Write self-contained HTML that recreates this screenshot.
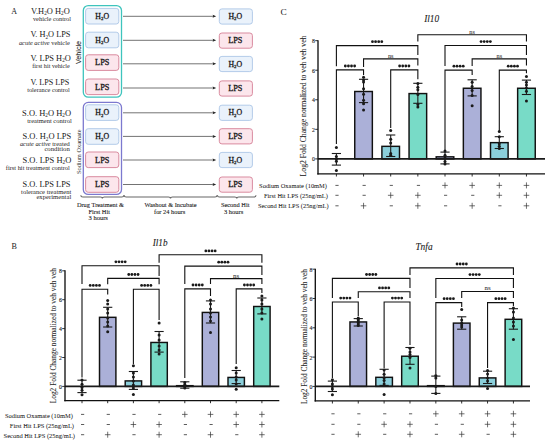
<!DOCTYPE html>
<html><head><meta charset="utf-8"><style>
html,body{margin:0;padding:0;background:#fff;}
body{width:550px;height:445px;overflow:hidden;}
svg{display:block;}
</style></head><body>
<svg width="550" height="445" viewBox="0 0 550 445">
<rect width="550" height="445" fill="#fff"/>
<text x="11.3" y="13.8" font-family="Liberation Serif" font-size="8.6" text-anchor="start" font-weight="normal" font-style="normal" fill="#1a1a1a" textLength="5.8" lengthAdjust="spacingAndGlyphs" >A</text>
<text x="31" y="14.0" font-family="Liberation Serif" font-size="8.4" text-anchor="start" font-weight="normal" font-style="normal" fill="#1a1a1a" stroke="#1a1a1a" stroke-width="0.02" textLength="38.8" lengthAdjust="spacingAndGlyphs" >V.H<tspan font-size="62%" dy="1.3">2</tspan><tspan dy="-1.3">O</tspan> H<tspan font-size="62%" dy="1.3">2</tspan><tspan dy="-1.3">O</tspan></text>
<text x="32.9" y="20.8" font-family="Liberation Serif" font-size="6.8" text-anchor="start" font-weight="normal" font-style="normal" fill="#1e1e1e" textLength="38.2" lengthAdjust="spacingAndGlyphs" >vehicle control</text>
<text x="30.4" y="37.3" font-family="Liberation Serif" font-size="8.4" text-anchor="start" font-weight="normal" font-style="normal" fill="#1a1a1a" stroke="#1a1a1a" stroke-width="0.02" textLength="40.1" lengthAdjust="spacingAndGlyphs" >V. H<tspan font-size="62%" dy="1.3">2</tspan><tspan dy="-1.3">O</tspan> LPS</text>
<text x="18.9" y="44.6" font-family="Liberation Serif" font-size="6.8" text-anchor="start" font-weight="normal" font-style="normal" fill="#1e1e1e" textLength="50.9" lengthAdjust="spacingAndGlyphs" ><tspan font-style="italic">acute active</tspan> vehicle</text>
<text x="30.4" y="60.7" font-family="Liberation Serif" font-size="8.4" text-anchor="start" font-weight="normal" font-style="normal" fill="#1a1a1a" stroke="#1a1a1a" stroke-width="0.02" textLength="40.4" lengthAdjust="spacingAndGlyphs" >V. LPS H<tspan font-size="62%" dy="1.3">2</tspan><tspan dy="-1.3">O</tspan></text>
<text x="32.3" y="68.1" font-family="Liberation Serif" font-size="6.8" text-anchor="start" font-weight="normal" font-style="normal" fill="#1e1e1e" textLength="37.5" lengthAdjust="spacingAndGlyphs" >first hit vehicle</text>
<text x="30.4" y="84.6" font-family="Liberation Serif" font-size="8.4" text-anchor="start" font-weight="normal" font-style="normal" fill="#1a1a1a" stroke="#1a1a1a" stroke-width="0.02" textLength="38.8" lengthAdjust="spacingAndGlyphs" >V. LPS LPS</text>
<text x="27.2" y="92.0" font-family="Liberation Serif" font-size="6.8" text-anchor="start" font-weight="normal" font-style="normal" fill="#1e1e1e" textLength="42.6" lengthAdjust="spacingAndGlyphs" >tolerance control</text>
<text x="22.1" y="116.0" font-family="Liberation Serif" font-size="8.4" text-anchor="start" font-weight="normal" font-style="normal" fill="#1a1a1a" stroke="#1a1a1a" stroke-width="0.02" textLength="49.0" lengthAdjust="spacingAndGlyphs" >S.O. H<tspan font-size="62%" dy="1.3">2</tspan><tspan dy="-1.3">O</tspan> H<tspan font-size="62%" dy="1.3">2</tspan><tspan dy="-1.3">O</tspan></text>
<text x="27.2" y="123.2" font-family="Liberation Serif" font-size="6.8" text-anchor="start" font-weight="normal" font-style="normal" fill="#1e1e1e" textLength="44.5" lengthAdjust="spacingAndGlyphs" >treatment control</text>
<text x="22.5" y="139.2" font-family="Liberation Serif" font-size="8.4" text-anchor="start" font-weight="normal" font-style="normal" fill="#1a1a1a" stroke="#1a1a1a" stroke-width="0.02" textLength="48.8" lengthAdjust="spacingAndGlyphs" >S.O. H<tspan font-size="62%" dy="1.3">2</tspan><tspan dy="-1.3">O</tspan> LPS</text>
<text x="19.9" y="146.1" font-family="Liberation Serif" font-size="6.8" text-anchor="start" font-weight="normal" font-style="normal" fill="#1e1e1e" textLength="49.9" lengthAdjust="spacingAndGlyphs" ><tspan font-style="italic">acute active</tspan> treated</text>
<text x="44.4" y="151.1" font-family="Liberation Serif" font-size="6.8" text-anchor="start" font-weight="normal" font-style="normal" fill="#1e1e1e" textLength="25.4" lengthAdjust="spacingAndGlyphs" >condition</text>
<text x="22.5" y="162.5" font-family="Liberation Serif" font-size="8.4" text-anchor="start" font-weight="normal" font-style="normal" fill="#1a1a1a" stroke="#1a1a1a" stroke-width="0.02" textLength="48.8" lengthAdjust="spacingAndGlyphs" >S.O. LPS H<tspan font-size="62%" dy="1.3">2</tspan><tspan dy="-1.3">O</tspan></text>
<text x="5.8" y="169.9" font-family="Liberation Serif" font-size="6.8" text-anchor="start" font-weight="normal" font-style="normal" fill="#1e1e1e" textLength="64.0" lengthAdjust="spacingAndGlyphs" >first hit treatment control</text>
<text x="22.5" y="186.8" font-family="Liberation Serif" font-size="8.4" text-anchor="start" font-weight="normal" font-style="normal" fill="#1a1a1a" stroke="#1a1a1a" stroke-width="0.02" textLength="48.0" lengthAdjust="spacingAndGlyphs" >S.O. LPS LPS</text>
<text x="21.1" y="194.2" font-family="Liberation Serif" font-size="6.8" text-anchor="start" font-weight="normal" font-style="normal" fill="#1e1e1e" textLength="50.2" lengthAdjust="spacingAndGlyphs" >tolerance treatment</text>
<text x="36.4" y="198.9" font-family="Liberation Serif" font-size="6.8" text-anchor="start" font-weight="normal" font-style="normal" fill="#1e1e1e" textLength="34.9" lengthAdjust="spacingAndGlyphs" >experimental</text>
<rect x="83.3" y="5.6" width="38.2" height="91.6" rx="5" ry="5" fill="none" stroke="#3ec4bd" stroke-width="1.3"/>
<rect x="83.3" y="102.4" width="38.2" height="92" rx="5" ry="5" fill="none" stroke="#7c79cf" stroke-width="1.3"/>
<text transform="translate(81.2,52.5) rotate(-90)" font-family="Liberation Sans" font-size="8.0" text-anchor="middle" fill="#2a2a2a" stroke="#2a2a2a" stroke-width="0.12" textLength="23.0" lengthAdjust="spacingAndGlyphs">Vehicle</text>
<text transform="translate(80.8,151.8) rotate(-90)" font-family="Liberation Serif" font-size="6.9" text-anchor="middle" fill="#333" textLength="44.6" lengthAdjust="spacingAndGlyphs">Sodium Oxamate</text>
<rect x="85.6" y="8.4" width="33.2" height="15.6" rx="2.6" ry="2.6" fill="#eaf2fb" stroke="#b3cbe9" stroke-width="1"/>
<text x="102.19999999999999" y="19.0" font-family="Liberation Serif" font-size="7.8" text-anchor="middle" font-weight="normal" font-style="normal" fill="#1a1a1a" stroke="#1a1a1a" stroke-width="0.3" >H<tspan font-size="62%" dy="1.3">2</tspan><tspan dy="-1.3">O</tspan></text>
<rect x="219.3" y="8.9" width="33.1" height="15.2" rx="2.6" ry="2.6" fill="#eaf2fb" stroke="#b3cbe9" stroke-width="1"/>
<text x="235.25000000000003" y="19.0" font-family="Liberation Serif" font-size="7.8" text-anchor="middle" font-weight="normal" font-style="normal" fill="#1a1a1a" stroke="#1a1a1a" stroke-width="0.3" >H<tspan font-size="62%" dy="1.3">2</tspan><tspan dy="-1.3">O</tspan></text>
<line x1="123.0" y1="16.3" x2="213.5" y2="16.3" stroke="#5a5a5a" stroke-width="0.85"/>
<path d="M216.2 16.3 L212.6 14.8 L213.2 16.3 L212.6 17.8 Z" fill="#222"/>
<rect x="85.6" y="32.2" width="33.2" height="15.6" rx="2.6" ry="2.6" fill="#eaf2fb" stroke="#b3cbe9" stroke-width="1"/>
<text x="102.19999999999999" y="42.8" font-family="Liberation Serif" font-size="7.8" text-anchor="middle" font-weight="normal" font-style="normal" fill="#1a1a1a" stroke="#1a1a1a" stroke-width="0.3" >H<tspan font-size="62%" dy="1.3">2</tspan><tspan dy="-1.3">O</tspan></text>
<rect x="219.3" y="33.0" width="33.1" height="15.2" rx="2.6" ry="2.6" fill="#fce6ec" stroke="#d98b9f" stroke-width="1"/>
<text x="235.25000000000003" y="43.1" font-family="Liberation Serif" font-size="7.8" text-anchor="middle" font-weight="normal" font-style="normal" fill="#1a1a1a" stroke="#1a1a1a" stroke-width="0.3" textLength="14.2" lengthAdjust="spacingAndGlyphs" >LPS</text>
<line x1="123.0" y1="40.3" x2="213.5" y2="40.3" stroke="#5a5a5a" stroke-width="0.85"/>
<path d="M216.2 40.3 L212.6 38.8 L213.2 40.3 L212.6 41.8 Z" fill="#222"/>
<rect x="85.6" y="54.8" width="33.2" height="15.6" rx="2.6" ry="2.6" fill="#fce6ec" stroke="#d98b9f" stroke-width="1"/>
<text x="102.19999999999999" y="65.4" font-family="Liberation Serif" font-size="7.8" text-anchor="middle" font-weight="normal" font-style="normal" fill="#1a1a1a" stroke="#1a1a1a" stroke-width="0.3" textLength="14.2" lengthAdjust="spacingAndGlyphs" >LPS</text>
<rect x="219.3" y="56.4" width="33.1" height="15.2" rx="2.6" ry="2.6" fill="#eaf2fb" stroke="#b3cbe9" stroke-width="1"/>
<text x="235.25000000000003" y="66.5" font-family="Liberation Serif" font-size="7.8" text-anchor="middle" font-weight="normal" font-style="normal" fill="#1a1a1a" stroke="#1a1a1a" stroke-width="0.3" >H<tspan font-size="62%" dy="1.3">2</tspan><tspan dy="-1.3">O</tspan></text>
<line x1="123.0" y1="63.8" x2="213.5" y2="63.8" stroke="#5a5a5a" stroke-width="0.85"/>
<path d="M216.2 63.8 L212.6 62.3 L213.2 63.8 L212.6 65.3 Z" fill="#222"/>
<rect x="85.6" y="79.0" width="33.2" height="15.6" rx="2.6" ry="2.6" fill="#fce6ec" stroke="#d98b9f" stroke-width="1"/>
<text x="102.19999999999999" y="89.6" font-family="Liberation Serif" font-size="7.8" text-anchor="middle" font-weight="normal" font-style="normal" fill="#1a1a1a" stroke="#1a1a1a" stroke-width="0.3" textLength="14.2" lengthAdjust="spacingAndGlyphs" >LPS</text>
<rect x="219.3" y="80.9" width="33.1" height="15.2" rx="2.6" ry="2.6" fill="#fce6ec" stroke="#d98b9f" stroke-width="1"/>
<text x="235.25000000000003" y="91.0" font-family="Liberation Serif" font-size="7.8" text-anchor="middle" font-weight="normal" font-style="normal" fill="#1a1a1a" stroke="#1a1a1a" stroke-width="0.3" textLength="14.2" lengthAdjust="spacingAndGlyphs" >LPS</text>
<line x1="123.0" y1="88.0" x2="213.5" y2="88.0" stroke="#5a5a5a" stroke-width="0.85"/>
<path d="M216.2 88.0 L212.6 86.5 L213.2 88.0 L212.6 89.5 Z" fill="#222"/>
<rect x="85.6" y="104.8" width="33.2" height="15.6" rx="2.6" ry="2.6" fill="#eaf2fb" stroke="#b3cbe9" stroke-width="1"/>
<text x="102.19999999999999" y="115.39999999999999" font-family="Liberation Serif" font-size="7.8" text-anchor="middle" font-weight="normal" font-style="normal" fill="#1a1a1a" stroke="#1a1a1a" stroke-width="0.3" >H<tspan font-size="62%" dy="1.3">2</tspan><tspan dy="-1.3">O</tspan></text>
<rect x="219.3" y="105.2" width="33.1" height="15.2" rx="2.6" ry="2.6" fill="#eaf2fb" stroke="#b3cbe9" stroke-width="1"/>
<text x="235.25000000000003" y="115.30000000000001" font-family="Liberation Serif" font-size="7.8" text-anchor="middle" font-weight="normal" font-style="normal" fill="#1a1a1a" stroke="#1a1a1a" stroke-width="0.3" >H<tspan font-size="62%" dy="1.3">2</tspan><tspan dy="-1.3">O</tspan></text>
<line x1="123.0" y1="112.8" x2="213.5" y2="112.8" stroke="#5a5a5a" stroke-width="0.85"/>
<path d="M216.2 112.8 L212.6 111.3 L213.2 112.8 L212.6 114.3 Z" fill="#222"/>
<rect x="85.6" y="128.7" width="33.2" height="15.6" rx="2.6" ry="2.6" fill="#eaf2fb" stroke="#b3cbe9" stroke-width="1"/>
<text x="102.19999999999999" y="139.3" font-family="Liberation Serif" font-size="7.8" text-anchor="middle" font-weight="normal" font-style="normal" fill="#1a1a1a" stroke="#1a1a1a" stroke-width="0.3" >H<tspan font-size="62%" dy="1.3">2</tspan><tspan dy="-1.3">O</tspan></text>
<rect x="219.3" y="128.7" width="33.1" height="15.2" rx="2.6" ry="2.6" fill="#fce6ec" stroke="#d98b9f" stroke-width="1"/>
<text x="235.25000000000003" y="138.8" font-family="Liberation Serif" font-size="7.8" text-anchor="middle" font-weight="normal" font-style="normal" fill="#1a1a1a" stroke="#1a1a1a" stroke-width="0.3" textLength="14.2" lengthAdjust="spacingAndGlyphs" >LPS</text>
<line x1="123.0" y1="136.4" x2="213.5" y2="136.4" stroke="#5a5a5a" stroke-width="0.85"/>
<path d="M216.2 136.4 L212.6 134.9 L213.2 136.4 L212.6 137.9 Z" fill="#222"/>
<rect x="85.6" y="152.0" width="33.2" height="15.6" rx="2.6" ry="2.6" fill="#fce6ec" stroke="#d98b9f" stroke-width="1"/>
<text x="102.19999999999999" y="162.60000000000002" font-family="Liberation Serif" font-size="7.8" text-anchor="middle" font-weight="normal" font-style="normal" fill="#1a1a1a" stroke="#1a1a1a" stroke-width="0.3" textLength="14.2" lengthAdjust="spacingAndGlyphs" >LPS</text>
<rect x="219.3" y="152.4" width="33.1" height="15.2" rx="2.6" ry="2.6" fill="#eaf2fb" stroke="#b3cbe9" stroke-width="1"/>
<text x="235.25000000000003" y="162.5" font-family="Liberation Serif" font-size="7.8" text-anchor="middle" font-weight="normal" font-style="normal" fill="#1a1a1a" stroke="#1a1a1a" stroke-width="0.3" >H<tspan font-size="62%" dy="1.3">2</tspan><tspan dy="-1.3">O</tspan></text>
<line x1="123.0" y1="160.0" x2="213.5" y2="160.0" stroke="#5a5a5a" stroke-width="0.85"/>
<path d="M216.2 160.0 L212.6 158.5 L213.2 160.0 L212.6 161.5 Z" fill="#222"/>
<rect x="85.6" y="176.7" width="33.2" height="15.6" rx="2.6" ry="2.6" fill="#fce6ec" stroke="#d98b9f" stroke-width="1"/>
<text x="102.19999999999999" y="187.3" font-family="Liberation Serif" font-size="7.8" text-anchor="middle" font-weight="normal" font-style="normal" fill="#1a1a1a" stroke="#1a1a1a" stroke-width="0.3" textLength="14.2" lengthAdjust="spacingAndGlyphs" >LPS</text>
<rect x="219.3" y="177.0" width="33.1" height="15.2" rx="2.6" ry="2.6" fill="#fce6ec" stroke="#d98b9f" stroke-width="1"/>
<text x="235.25000000000003" y="187.1" font-family="Liberation Serif" font-size="7.8" text-anchor="middle" font-weight="normal" font-style="normal" fill="#1a1a1a" stroke="#1a1a1a" stroke-width="0.3" textLength="14.2" lengthAdjust="spacingAndGlyphs" >LPS</text>
<line x1="123.0" y1="184.5" x2="213.5" y2="184.5" stroke="#5a5a5a" stroke-width="0.85"/>
<path d="M216.2 184.5 L212.6 183.0 L213.2 184.5 L212.6 186.0 Z" fill="#222"/>
<path d="M80.8 195.2 Q80.8 197.0 82.8 197.0 L100.4 197.0 Q102.4 197.0 102.4 198.4 Q102.4 197.0 104.4 197.0 L121.8 197.0 Q123.8 197.0 123.8 195.2" fill="none" stroke="#666" stroke-width="1.1"/>
<path d="M124.2 195.2 Q124.2 197.0 126.2 197.0 L168.5 197.0 Q170.5 197.0 170.5 198.4 Q170.5 197.0 172.5 197.0 L215.0 197.0 Q217.0 197.0 217.0 195.2" fill="none" stroke="#666" stroke-width="1.1"/>
<path d="M217.4 195.2 Q217.4 197.0 219.4 197.0 L234.8 197.0 Q236.8 197.0 236.8 198.4 Q236.8 197.0 238.8 197.0 L254.0 197.0 Q256.0 197.0 256.0 195.2" fill="none" stroke="#666" stroke-width="1.1"/>
<text x="76.9" y="207.2" font-family="Liberation Serif" font-size="6.9" text-anchor="start" font-weight="normal" font-style="normal" fill="#222" stroke="#222" stroke-width="0.1" textLength="47.1" lengthAdjust="spacingAndGlyphs" >Drug Treatment &amp;</text>
<text x="99.2" y="213.9" font-family="Liberation Serif" font-size="6.9" text-anchor="middle" font-weight="normal" font-style="normal" fill="#222" stroke="#222" stroke-width="0.1" textLength="21.6" lengthAdjust="spacingAndGlyphs" >First Hit</text>
<text x="98.2" y="219.9" font-family="Liberation Serif" font-size="6.9" text-anchor="middle" font-weight="normal" font-style="normal" fill="#222" stroke="#222" stroke-width="0.1" textLength="19.4" lengthAdjust="spacingAndGlyphs" >3 hours</text>
<text x="144.5" y="207.2" font-family="Liberation Serif" font-size="6.9" text-anchor="start" font-weight="normal" font-style="normal" fill="#222" stroke="#222" stroke-width="0.1" textLength="52.1" lengthAdjust="spacingAndGlyphs" >Washout &amp; Incubate</text>
<text x="154.0" y="213.6" font-family="Liberation Serif" font-size="6.9" text-anchor="start" font-weight="normal" font-style="normal" fill="#222" stroke="#222" stroke-width="0.1" textLength="31.2" lengthAdjust="spacingAndGlyphs" >for 24 hours</text>
<text x="220.9" y="207.1" font-family="Liberation Serif" font-size="6.9" text-anchor="start" font-weight="normal" font-style="normal" fill="#222" stroke="#222" stroke-width="0.1" textLength="28.6" lengthAdjust="spacingAndGlyphs" >Second Hit</text>
<text x="224.0" y="213.7" font-family="Liberation Serif" font-size="6.9" text-anchor="start" font-weight="normal" font-style="normal" fill="#222" stroke="#222" stroke-width="0.1" textLength="19.2" lengthAdjust="spacingAndGlyphs" >3 hours</text>
<text x="280.5" y="15.3" font-family="Liberation Serif" font-size="8.6" text-anchor="start" font-weight="normal" font-style="normal" fill="#1a1a1a" textLength="6.2" lengthAdjust="spacingAndGlyphs" >C</text>
<text x="424.2" y="21.6" font-family="Liberation Serif" font-size="10.4" text-anchor="start" font-weight="normal" font-style="italic" fill="#222" stroke="#222" stroke-width="0.1" textLength="15.0" lengthAdjust="spacingAndGlyphs" >Il10</text>
<text transform="translate(306.2,106.0) rotate(-90)" font-family="Liberation Serif" font-size="7.4" text-anchor="middle" fill="#1e1e1e" stroke="#1e1e1e" stroke-width="0.06" textLength="140.8" lengthAdjust="spacingAndGlyphs">Log2 Fold Change normalized to veh veh veh</text>
<rect x="354.75" y="91.5" width="17.6" height="67.4" fill="#abb0d8" stroke="#111" stroke-width="1.45"/>
<rect x="381.9" y="146.34" width="17.6" height="12.56" fill="#8bcfdb" stroke="#111" stroke-width="1.45"/>
<rect x="409.05" y="93.57" width="17.6" height="65.33" fill="#78dbc7" stroke="#111" stroke-width="1.45"/>
<rect x="436.2" y="156.83" width="17.6" height="2.07" fill="#abb0d8" stroke="#111" stroke-width="1.45"/>
<rect x="463.35" y="88.25" width="17.6" height="70.65" fill="#abb0d8" stroke="#111" stroke-width="1.45"/>
<rect x="490.5" y="142.64" width="17.6" height="16.26" fill="#8bcfdb" stroke="#111" stroke-width="1.45"/>
<rect x="517.65" y="88.25" width="17.6" height="70.65" fill="#78dbc7" stroke="#111" stroke-width="1.45"/>
<line x1="318.0" y1="158.9" x2="545.0" y2="158.9" stroke="#1a1a1a" stroke-width="1.7"/>
<line x1="318.0" y1="40.16" x2="318.0" y2="174.6" stroke="#111" stroke-width="1.35"/>
<line x1="317.3" y1="173.9" x2="545.0" y2="173.9" stroke="#111" stroke-width="1.4"/>
<line x1="315.2" y1="158.9" x2="318.0" y2="158.9" stroke="#1a1a1a" stroke-width="0.9"/>
<text x="315.0" y="161.4" font-family="Liberation Serif" font-size="5.8" text-anchor="end" fill="#222" stroke="#222" stroke-width="0.12">0</text>
<line x1="315.2" y1="129.34" x2="318.0" y2="129.34" stroke="#1a1a1a" stroke-width="0.9"/>
<text x="315.0" y="131.84" font-family="Liberation Serif" font-size="5.8" text-anchor="end" fill="#222" stroke="#222" stroke-width="0.12">2</text>
<line x1="315.2" y1="99.78" x2="318.0" y2="99.78" stroke="#1a1a1a" stroke-width="0.9"/>
<text x="315.0" y="102.28" font-family="Liberation Serif" font-size="5.8" text-anchor="end" fill="#222" stroke="#222" stroke-width="0.12">4</text>
<line x1="315.2" y1="70.22" x2="318.0" y2="70.22" stroke="#1a1a1a" stroke-width="0.9"/>
<text x="315.0" y="72.72" font-family="Liberation Serif" font-size="5.8" text-anchor="end" fill="#222" stroke="#222" stroke-width="0.12">6</text>
<line x1="315.2" y1="40.66" x2="318.0" y2="40.66" stroke="#1a1a1a" stroke-width="0.9"/>
<text x="315.0" y="43.16" font-family="Liberation Serif" font-size="5.8" text-anchor="end" fill="#222" stroke="#222" stroke-width="0.12">8</text>
<line x1="336.4" y1="173.9" x2="336.4" y2="176.5" stroke="#1a1a1a" stroke-width="0.9"/>
<line x1="363.54999999999995" y1="173.9" x2="363.54999999999995" y2="176.5" stroke="#1a1a1a" stroke-width="0.9"/>
<line x1="390.7" y1="173.9" x2="390.7" y2="176.5" stroke="#1a1a1a" stroke-width="0.9"/>
<line x1="417.84999999999997" y1="173.9" x2="417.84999999999997" y2="176.5" stroke="#1a1a1a" stroke-width="0.9"/>
<line x1="445.0" y1="173.9" x2="445.0" y2="176.5" stroke="#1a1a1a" stroke-width="0.9"/>
<line x1="472.15" y1="173.9" x2="472.15" y2="176.5" stroke="#1a1a1a" stroke-width="0.9"/>
<line x1="499.29999999999995" y1="173.9" x2="499.29999999999995" y2="176.5" stroke="#1a1a1a" stroke-width="0.9"/>
<line x1="526.4499999999999" y1="173.9" x2="526.4499999999999" y2="176.5" stroke="#1a1a1a" stroke-width="0.9"/>
<line x1="336.4" y1="153.5" x2="336.4" y2="165.1" stroke="#1a1a1a" stroke-width="1.1"/>
<line x1="331.79999999999995" y1="153.5" x2="341.0" y2="153.5" stroke="#1a1a1a" stroke-width="1.1"/>
<line x1="331.79999999999995" y1="165.1" x2="341.0" y2="165.1" stroke="#1a1a1a" stroke-width="1.1"/>
<circle cx="336.4" cy="147.6" r="1.5" fill="#1a1a1a"/>
<circle cx="336.4" cy="156.5" r="1.5" fill="#1a1a1a"/>
<circle cx="336.4" cy="158.9" r="1.5" fill="#1a1a1a"/>
<circle cx="336.4" cy="161.3" r="1.5" fill="#1a1a1a"/>
<circle cx="336.4" cy="170.5" r="1.5" fill="#1a1a1a"/>
<line x1="363.54999999999995" y1="79.3" x2="363.54999999999995" y2="102.6" stroke="#1a1a1a" stroke-width="1.1"/>
<line x1="358.94999999999993" y1="79.3" x2="368.15" y2="79.3" stroke="#1a1a1a" stroke-width="1.1"/>
<line x1="358.94999999999993" y1="102.6" x2="368.15" y2="102.6" stroke="#1a1a1a" stroke-width="1.1"/>
<circle cx="363.54999999999995" cy="77.3" r="1.5" fill="#1a1a1a"/>
<circle cx="363.54999999999995" cy="80.1" r="1.5" fill="#1a1a1a"/>
<circle cx="363.54999999999995" cy="82.1" r="1.5" fill="#1a1a1a"/>
<circle cx="363.54999999999995" cy="88.7" r="1.5" fill="#1a1a1a"/>
<circle cx="363.54999999999995" cy="94.2" r="1.5" fill="#1a1a1a"/>
<circle cx="363.54999999999995" cy="100.3" r="1.5" fill="#1a1a1a"/>
<circle cx="363.54999999999995" cy="103.8" r="1.5" fill="#1a1a1a"/>
<circle cx="363.54999999999995" cy="109.9" r="1.5" fill="#1a1a1a"/>
<line x1="390.7" y1="135.0" x2="390.7" y2="156.5" stroke="#1a1a1a" stroke-width="1.1"/>
<line x1="386.09999999999997" y1="135.0" x2="395.3" y2="135.0" stroke="#1a1a1a" stroke-width="1.1"/>
<line x1="386.09999999999997" y1="156.5" x2="395.3" y2="156.5" stroke="#1a1a1a" stroke-width="1.1"/>
<circle cx="390.7" cy="130.5" r="1.5" fill="#1a1a1a"/>
<circle cx="390.7" cy="139.2" r="1.5" fill="#1a1a1a"/>
<circle cx="390.7" cy="142.9" r="1.5" fill="#1a1a1a"/>
<circle cx="390.7" cy="153.5" r="1.5" fill="#1a1a1a"/>
<circle cx="390.7" cy="155.3" r="1.5" fill="#1a1a1a"/>
<line x1="417.84999999999997" y1="83.3" x2="417.84999999999997" y2="103.3" stroke="#1a1a1a" stroke-width="1.1"/>
<line x1="413.24999999999994" y1="83.3" x2="422.45" y2="83.3" stroke="#1a1a1a" stroke-width="1.1"/>
<line x1="413.24999999999994" y1="103.3" x2="422.45" y2="103.3" stroke="#1a1a1a" stroke-width="1.1"/>
<circle cx="417.84999999999997" cy="83.5" r="1.5" fill="#1a1a1a"/>
<circle cx="417.84999999999997" cy="87.2" r="1.5" fill="#1a1a1a"/>
<circle cx="417.84999999999997" cy="89.7" r="1.5" fill="#1a1a1a"/>
<circle cx="417.84999999999997" cy="94.6" r="1.5" fill="#1a1a1a"/>
<circle cx="417.84999999999997" cy="104.5" r="1.5" fill="#1a1a1a"/>
<circle cx="417.84999999999997" cy="107.0" r="1.5" fill="#1a1a1a"/>
<line x1="445.0" y1="152.1" x2="445.0" y2="163.9" stroke="#1a1a1a" stroke-width="1.1"/>
<line x1="440.4" y1="152.1" x2="449.6" y2="152.1" stroke="#1a1a1a" stroke-width="1.1"/>
<line x1="440.4" y1="163.9" x2="449.6" y2="163.9" stroke="#1a1a1a" stroke-width="1.1"/>
<circle cx="445.0" cy="150.9" r="1.5" fill="#1a1a1a"/>
<circle cx="445.0" cy="155.2" r="1.5" fill="#1a1a1a"/>
<circle cx="445.0" cy="158.0" r="1.5" fill="#1a1a1a"/>
<circle cx="445.0" cy="161.5" r="1.5" fill="#1a1a1a"/>
<circle cx="445.0" cy="163.9" r="1.5" fill="#1a1a1a"/>
<line x1="472.15" y1="79.8" x2="472.15" y2="95.9" stroke="#1a1a1a" stroke-width="1.1"/>
<line x1="467.54999999999995" y1="79.8" x2="476.75" y2="79.8" stroke="#1a1a1a" stroke-width="1.1"/>
<line x1="467.54999999999995" y1="95.9" x2="476.75" y2="95.9" stroke="#1a1a1a" stroke-width="1.1"/>
<circle cx="472.15" cy="82.3" r="1.5" fill="#1a1a1a"/>
<circle cx="472.15" cy="86.4" r="1.5" fill="#1a1a1a"/>
<circle cx="472.15" cy="90.5" r="1.5" fill="#1a1a1a"/>
<circle cx="472.15" cy="95.4" r="1.5" fill="#1a1a1a"/>
<circle cx="472.15" cy="105.7" r="1.5" fill="#1a1a1a"/>
<line x1="499.29999999999995" y1="136.7" x2="499.29999999999995" y2="148.5" stroke="#1a1a1a" stroke-width="1.1"/>
<line x1="494.69999999999993" y1="136.7" x2="503.9" y2="136.7" stroke="#1a1a1a" stroke-width="1.1"/>
<line x1="494.69999999999993" y1="148.5" x2="503.9" y2="148.5" stroke="#1a1a1a" stroke-width="1.1"/>
<circle cx="499.29999999999995" cy="131.5" r="1.5" fill="#1a1a1a"/>
<circle cx="499.29999999999995" cy="136.7" r="1.5" fill="#1a1a1a"/>
<circle cx="499.29999999999995" cy="143.8" r="1.5" fill="#1a1a1a"/>
<circle cx="499.29999999999995" cy="146.2" r="1.5" fill="#1a1a1a"/>
<circle cx="499.29999999999995" cy="148.5" r="1.5" fill="#1a1a1a"/>
<line x1="526.4499999999999" y1="80.1" x2="526.4499999999999" y2="94.5" stroke="#1a1a1a" stroke-width="1.1"/>
<line x1="521.8499999999999" y1="80.1" x2="531.05" y2="80.1" stroke="#1a1a1a" stroke-width="1.1"/>
<line x1="521.8499999999999" y1="94.5" x2="531.05" y2="94.5" stroke="#1a1a1a" stroke-width="1.1"/>
<circle cx="526.4499999999999" cy="76.5" r="1.5" fill="#1a1a1a"/>
<circle cx="526.4499999999999" cy="82.3" r="1.5" fill="#1a1a1a"/>
<circle cx="526.4499999999999" cy="85.0" r="1.5" fill="#1a1a1a"/>
<circle cx="526.4499999999999" cy="88.0" r="1.5" fill="#1a1a1a"/>
<circle cx="526.4499999999999" cy="91.3" r="1.5" fill="#1a1a1a"/>
<circle cx="526.4499999999999" cy="101.1" r="1.5" fill="#1a1a1a"/>
<path d="M336.4 144.0 L336.4 69.9 L363.54999999999995 69.9 L363.54999999999995 75.0" fill="none" stroke="#111" stroke-width="1.1"/>
<circle cx="345.32" cy="66.0" r="1.4" fill="#1a1a1a"/>
<circle cx="348.42" cy="66.0" r="1.4" fill="#1a1a1a"/>
<circle cx="351.52" cy="66.0" r="1.4" fill="#1a1a1a"/>
<circle cx="354.62" cy="66.0" r="1.4" fill="#1a1a1a"/>
<path d="M390.7 128.0 L390.7 69.9 L417.84999999999997 69.9 L417.84999999999997 79.3" fill="none" stroke="#111" stroke-width="1.1"/>
<circle cx="399.62" cy="66.0" r="1.4" fill="#1a1a1a"/>
<circle cx="402.72" cy="66.0" r="1.4" fill="#1a1a1a"/>
<circle cx="405.82" cy="66.0" r="1.4" fill="#1a1a1a"/>
<circle cx="408.92" cy="66.0" r="1.4" fill="#1a1a1a"/>
<path d="M363.54999999999995 66.9 L363.54999999999995 58.9 L417.84999999999997 58.9 L417.84999999999997 65.6" fill="none" stroke="#111" stroke-width="1.1"/>
<text x="390.69999999999993" y="57.8" font-family="Liberation Serif" font-size="5.4" text-anchor="middle" font-weight="normal" font-style="normal" fill="#333" stroke="#333" stroke-width="0.05" textLength="5.6" lengthAdjust="spacingAndGlyphs" >ns</text>
<path d="M336.4 66.3 L336.4 45.6 L417.84999999999997 45.6 L417.84999999999997 54.9" fill="none" stroke="#111" stroke-width="1.1"/>
<circle cx="372.48" cy="41.7" r="1.4" fill="#1a1a1a"/>
<circle cx="375.57" cy="41.7" r="1.4" fill="#1a1a1a"/>
<circle cx="378.68" cy="41.7" r="1.4" fill="#1a1a1a"/>
<circle cx="381.77" cy="41.7" r="1.4" fill="#1a1a1a"/>
<path d="M417.84999999999997 41.5 L417.84999999999997 34.8 L526.4499999999999 34.8 L526.4499999999999 41.5" fill="none" stroke="#111" stroke-width="1.1"/>
<text x="472.15" y="33.699999999999996" font-family="Liberation Serif" font-size="5.4" text-anchor="middle" font-weight="normal" font-style="normal" fill="#333" stroke="#333" stroke-width="0.05" textLength="5.6" lengthAdjust="spacingAndGlyphs" >ns</text>
<path d="M445.0 150.9 L445.0 70.1 L472.15 70.1 L472.15 74.9" fill="none" stroke="#111" stroke-width="1.1"/>
<circle cx="453.93" cy="66.2" r="1.4" fill="#1a1a1a"/>
<circle cx="457.02" cy="66.2" r="1.4" fill="#1a1a1a"/>
<circle cx="460.12" cy="66.2" r="1.4" fill="#1a1a1a"/>
<circle cx="463.22" cy="66.2" r="1.4" fill="#1a1a1a"/>
<path d="M499.29999999999995 130.8 L499.29999999999995 70.1 L526.4499999999999 70.1 L526.4499999999999 73.3" fill="none" stroke="#111" stroke-width="1.1"/>
<circle cx="508.23" cy="66.2" r="1.4" fill="#1a1a1a"/>
<circle cx="511.32" cy="66.2" r="1.4" fill="#1a1a1a"/>
<circle cx="514.42" cy="66.2" r="1.4" fill="#1a1a1a"/>
<circle cx="517.52" cy="66.2" r="1.4" fill="#1a1a1a"/>
<path d="M472.15 66.0 L472.15 58.9 L526.4499999999999 58.9 L526.4499999999999 65.6" fill="none" stroke="#111" stroke-width="1.1"/>
<text x="499.29999999999995" y="57.8" font-family="Liberation Serif" font-size="5.4" text-anchor="middle" font-weight="normal" font-style="normal" fill="#333" stroke="#333" stroke-width="0.05" textLength="5.6" lengthAdjust="spacingAndGlyphs" >ns</text>
<path d="M445.0 66.0 L445.0 45.5 L526.4499999999999 45.5 L526.4499999999999 55.0" fill="none" stroke="#111" stroke-width="1.1"/>
<circle cx="481.07" cy="41.6" r="1.4" fill="#1a1a1a"/>
<circle cx="484.17" cy="41.6" r="1.4" fill="#1a1a1a"/>
<circle cx="487.27" cy="41.6" r="1.4" fill="#1a1a1a"/>
<circle cx="490.37" cy="41.6" r="1.4" fill="#1a1a1a"/>
<line x1="335.4" y1="185.4" x2="338.59999999999997" y2="185.4" stroke="#333" stroke-width="0.8"/>
<line x1="362.54999999999995" y1="185.4" x2="365.74999999999994" y2="185.4" stroke="#333" stroke-width="0.8"/>
<line x1="389.7" y1="185.4" x2="392.9" y2="185.4" stroke="#333" stroke-width="0.8"/>
<line x1="416.84999999999997" y1="185.4" x2="420.04999999999995" y2="185.4" stroke="#333" stroke-width="0.8"/>
<line x1="442.2" y1="185.4" x2="447.8" y2="185.4" stroke="#333" stroke-width="0.7"/>
<line x1="445.0" y1="182.4" x2="445.0" y2="188.4" stroke="#333" stroke-width="0.7"/>
<line x1="469.34999999999997" y1="185.4" x2="474.95" y2="185.4" stroke="#333" stroke-width="0.7"/>
<line x1="472.15" y1="182.4" x2="472.15" y2="188.4" stroke="#333" stroke-width="0.7"/>
<line x1="496.49999999999994" y1="185.4" x2="502.09999999999997" y2="185.4" stroke="#333" stroke-width="0.7"/>
<line x1="499.29999999999995" y1="182.4" x2="499.29999999999995" y2="188.4" stroke="#333" stroke-width="0.7"/>
<line x1="523.65" y1="185.4" x2="529.2499999999999" y2="185.4" stroke="#333" stroke-width="0.7"/>
<line x1="526.4499999999999" y1="182.4" x2="526.4499999999999" y2="188.4" stroke="#333" stroke-width="0.7"/>
<line x1="335.4" y1="195.3" x2="338.59999999999997" y2="195.3" stroke="#333" stroke-width="0.8"/>
<line x1="362.54999999999995" y1="195.3" x2="365.74999999999994" y2="195.3" stroke="#333" stroke-width="0.8"/>
<line x1="387.9" y1="195.3" x2="393.5" y2="195.3" stroke="#333" stroke-width="0.7"/>
<line x1="390.7" y1="192.3" x2="390.7" y2="198.3" stroke="#333" stroke-width="0.7"/>
<line x1="415.04999999999995" y1="195.3" x2="420.65" y2="195.3" stroke="#333" stroke-width="0.7"/>
<line x1="417.84999999999997" y1="192.3" x2="417.84999999999997" y2="198.3" stroke="#333" stroke-width="0.7"/>
<line x1="444.0" y1="195.3" x2="447.2" y2="195.3" stroke="#333" stroke-width="0.8"/>
<line x1="471.15" y1="195.3" x2="474.34999999999997" y2="195.3" stroke="#333" stroke-width="0.8"/>
<line x1="496.49999999999994" y1="195.3" x2="502.09999999999997" y2="195.3" stroke="#333" stroke-width="0.7"/>
<line x1="499.29999999999995" y1="192.3" x2="499.29999999999995" y2="198.3" stroke="#333" stroke-width="0.7"/>
<line x1="523.65" y1="195.3" x2="529.2499999999999" y2="195.3" stroke="#333" stroke-width="0.7"/>
<line x1="526.4499999999999" y1="192.3" x2="526.4499999999999" y2="198.3" stroke="#333" stroke-width="0.7"/>
<line x1="335.4" y1="205.8" x2="338.59999999999997" y2="205.8" stroke="#333" stroke-width="0.8"/>
<line x1="360.74999999999994" y1="205.8" x2="366.34999999999997" y2="205.8" stroke="#333" stroke-width="0.7"/>
<line x1="363.54999999999995" y1="202.8" x2="363.54999999999995" y2="208.8" stroke="#333" stroke-width="0.7"/>
<line x1="389.7" y1="205.8" x2="392.9" y2="205.8" stroke="#333" stroke-width="0.8"/>
<line x1="415.04999999999995" y1="205.8" x2="420.65" y2="205.8" stroke="#333" stroke-width="0.7"/>
<line x1="417.84999999999997" y1="202.8" x2="417.84999999999997" y2="208.8" stroke="#333" stroke-width="0.7"/>
<line x1="444.0" y1="205.8" x2="447.2" y2="205.8" stroke="#333" stroke-width="0.8"/>
<line x1="469.34999999999997" y1="205.8" x2="474.95" y2="205.8" stroke="#333" stroke-width="0.7"/>
<line x1="472.15" y1="202.8" x2="472.15" y2="208.8" stroke="#333" stroke-width="0.7"/>
<line x1="498.29999999999995" y1="205.8" x2="501.49999999999994" y2="205.8" stroke="#333" stroke-width="0.8"/>
<line x1="523.65" y1="205.8" x2="529.2499999999999" y2="205.8" stroke="#333" stroke-width="0.7"/>
<line x1="526.4499999999999" y1="202.8" x2="526.4499999999999" y2="208.8" stroke="#333" stroke-width="0.7"/>
<text x="327.0" y="188.1" font-family="Liberation Serif" font-size="6.7" text-anchor="end" font-weight="normal" font-style="normal" fill="#222" stroke="#222" stroke-width="0.04" textLength="67.9" lengthAdjust="spacingAndGlyphs" >Sodium Oxamate (10mM)</text>
<text x="327.8" y="197.9" font-family="Liberation Serif" font-size="6.7" text-anchor="end" font-weight="normal" font-style="normal" fill="#222" stroke="#222" stroke-width="0.04" textLength="63.8" lengthAdjust="spacingAndGlyphs" >First Hit LPS (25ng/mL)</text>
<text x="328.6" y="207.7" font-family="Liberation Serif" font-size="6.7" text-anchor="end" font-weight="normal" font-style="normal" fill="#222" stroke="#222" stroke-width="0.04" textLength="70.7" lengthAdjust="spacingAndGlyphs" >Second Hit LPS (25ng/mL)</text>
<text x="11.5" y="249.1" font-family="Liberation Serif" font-size="8.6" text-anchor="start" font-weight="normal" font-style="normal" fill="#1a1a1a" textLength="5.4" lengthAdjust="spacingAndGlyphs" >B</text>
<text x="152.7" y="246.4" font-family="Liberation Serif" font-size="10.4" text-anchor="start" font-weight="normal" font-style="italic" fill="#222" stroke="#222" stroke-width="0.1" textLength="14.8" lengthAdjust="spacingAndGlyphs" >Il1b</text>
<text transform="translate(56.2,335.7) rotate(-90)" font-family="Liberation Serif" font-size="7.4" text-anchor="middle" fill="#1e1e1e" stroke="#1e1e1e" stroke-width="0.06" textLength="135.1" lengthAdjust="spacingAndGlyphs">Log2 Fold Change normalized to veh veh veh</text>
<rect x="99.5" y="317.33" width="16.4" height="69.07" fill="#abb0d8" stroke="#111" stroke-width="1.45"/>
<rect x="125.2" y="380.91" width="16.4" height="5.49" fill="#8bcfdb" stroke="#111" stroke-width="1.45"/>
<rect x="150.9" y="342.47" width="16.4" height="43.93" fill="#78dbc7" stroke="#111" stroke-width="1.45"/>
<rect x="176.6" y="385.68" width="16.4" height="0.72" fill="#abb0d8" stroke="#111" stroke-width="1.45"/>
<rect x="202.3" y="312.42" width="16.4" height="73.98" fill="#abb0d8" stroke="#111" stroke-width="1.45"/>
<rect x="228.0" y="377.44" width="16.4" height="8.96" fill="#8bcfdb" stroke="#111" stroke-width="1.45"/>
<rect x="253.7" y="306.49" width="16.4" height="79.91" fill="#78dbc7" stroke="#111" stroke-width="1.45"/>
<line x1="65.0" y1="386.4" x2="279.3" y2="386.4" stroke="#1a1a1a" stroke-width="1.7"/>
<line x1="65.0" y1="270.3" x2="65.0" y2="401.3" stroke="#111" stroke-width="1.35"/>
<line x1="64.3" y1="400.6" x2="279.3" y2="400.6" stroke="#111" stroke-width="1.4"/>
<line x1="62.2" y1="386.4" x2="65.0" y2="386.4" stroke="#1a1a1a" stroke-width="0.9"/>
<text x="62.0" y="388.9" font-family="Liberation Serif" font-size="5.8" text-anchor="end" fill="#222" stroke="#222" stroke-width="0.12">0</text>
<line x1="62.2" y1="357.5" x2="65.0" y2="357.5" stroke="#1a1a1a" stroke-width="0.9"/>
<text x="62.0" y="360.0" font-family="Liberation Serif" font-size="5.8" text-anchor="end" fill="#222" stroke="#222" stroke-width="0.12">2</text>
<line x1="62.2" y1="328.6" x2="65.0" y2="328.6" stroke="#1a1a1a" stroke-width="0.9"/>
<text x="62.0" y="331.1" font-family="Liberation Serif" font-size="5.8" text-anchor="end" fill="#222" stroke="#222" stroke-width="0.12">4</text>
<line x1="62.2" y1="299.7" x2="65.0" y2="299.7" stroke="#1a1a1a" stroke-width="0.9"/>
<text x="62.0" y="302.2" font-family="Liberation Serif" font-size="5.8" text-anchor="end" fill="#222" stroke="#222" stroke-width="0.12">6</text>
<line x1="62.2" y1="270.8" x2="65.0" y2="270.8" stroke="#1a1a1a" stroke-width="0.9"/>
<text x="62.0" y="273.3" font-family="Liberation Serif" font-size="5.8" text-anchor="end" fill="#222" stroke="#222" stroke-width="0.12">8</text>
<line x1="82.0" y1="400.6" x2="82.0" y2="403.20000000000005" stroke="#1a1a1a" stroke-width="0.9"/>
<line x1="107.7" y1="400.6" x2="107.7" y2="403.20000000000005" stroke="#1a1a1a" stroke-width="0.9"/>
<line x1="133.4" y1="400.6" x2="133.4" y2="403.20000000000005" stroke="#1a1a1a" stroke-width="0.9"/>
<line x1="159.1" y1="400.6" x2="159.1" y2="403.20000000000005" stroke="#1a1a1a" stroke-width="0.9"/>
<line x1="184.8" y1="400.6" x2="184.8" y2="403.20000000000005" stroke="#1a1a1a" stroke-width="0.9"/>
<line x1="210.5" y1="400.6" x2="210.5" y2="403.20000000000005" stroke="#1a1a1a" stroke-width="0.9"/>
<line x1="236.2" y1="400.6" x2="236.2" y2="403.20000000000005" stroke="#1a1a1a" stroke-width="0.9"/>
<line x1="261.9" y1="400.6" x2="261.9" y2="403.20000000000005" stroke="#1a1a1a" stroke-width="0.9"/>
<line x1="82.0" y1="380.2" x2="82.0" y2="392.6" stroke="#1a1a1a" stroke-width="1.1"/>
<line x1="77.4" y1="380.2" x2="86.6" y2="380.2" stroke="#1a1a1a" stroke-width="1.1"/>
<line x1="77.4" y1="392.6" x2="86.6" y2="392.6" stroke="#1a1a1a" stroke-width="1.1"/>
<circle cx="82.0" cy="380.0" r="1.5" fill="#1a1a1a"/>
<circle cx="82.0" cy="384.2" r="1.5" fill="#1a1a1a"/>
<circle cx="82.0" cy="387.5" r="1.5" fill="#1a1a1a"/>
<circle cx="82.0" cy="390.3" r="1.5" fill="#1a1a1a"/>
<circle cx="82.0" cy="394.8" r="1.5" fill="#1a1a1a"/>
<line x1="107.7" y1="307.3" x2="107.7" y2="327.0" stroke="#1a1a1a" stroke-width="1.1"/>
<line x1="103.10000000000001" y1="307.3" x2="112.3" y2="307.3" stroke="#1a1a1a" stroke-width="1.1"/>
<line x1="103.10000000000001" y1="327.0" x2="112.3" y2="327.0" stroke="#1a1a1a" stroke-width="1.1"/>
<circle cx="107.7" cy="300.6" r="1.5" fill="#1a1a1a"/>
<circle cx="107.7" cy="304" r="1.5" fill="#1a1a1a"/>
<circle cx="107.7" cy="309" r="1.5" fill="#1a1a1a"/>
<circle cx="107.7" cy="313" r="1.5" fill="#1a1a1a"/>
<circle cx="107.7" cy="318" r="1.5" fill="#1a1a1a"/>
<circle cx="107.7" cy="322" r="1.5" fill="#1a1a1a"/>
<circle cx="107.7" cy="326" r="1.5" fill="#1a1a1a"/>
<circle cx="107.7" cy="331.8" r="1.5" fill="#1a1a1a"/>
<line x1="133.4" y1="371.5" x2="133.4" y2="389.4" stroke="#1a1a1a" stroke-width="1.1"/>
<line x1="128.8" y1="371.5" x2="138.0" y2="371.5" stroke="#1a1a1a" stroke-width="1.1"/>
<line x1="128.8" y1="389.4" x2="138.0" y2="389.4" stroke="#1a1a1a" stroke-width="1.1"/>
<circle cx="133.4" cy="365.8" r="1.5" fill="#1a1a1a"/>
<circle cx="133.4" cy="373" r="1.5" fill="#1a1a1a"/>
<circle cx="133.4" cy="377" r="1.5" fill="#1a1a1a"/>
<circle cx="133.4" cy="381" r="1.5" fill="#1a1a1a"/>
<circle cx="133.4" cy="385" r="1.5" fill="#1a1a1a"/>
<circle cx="133.4" cy="388" r="1.5" fill="#1a1a1a"/>
<circle cx="133.4" cy="394.5" r="1.5" fill="#1a1a1a"/>
<line x1="159.1" y1="331.5" x2="159.1" y2="352.1" stroke="#1a1a1a" stroke-width="1.1"/>
<line x1="154.5" y1="331.5" x2="163.7" y2="331.5" stroke="#1a1a1a" stroke-width="1.1"/>
<line x1="154.5" y1="352.1" x2="163.7" y2="352.1" stroke="#1a1a1a" stroke-width="1.1"/>
<circle cx="159.1" cy="322.9" r="1.5" fill="#1a1a1a"/>
<circle cx="159.1" cy="335" r="1.5" fill="#1a1a1a"/>
<circle cx="159.1" cy="340" r="1.5" fill="#1a1a1a"/>
<circle cx="159.1" cy="346" r="1.5" fill="#1a1a1a"/>
<circle cx="159.1" cy="350" r="1.5" fill="#1a1a1a"/>
<circle cx="159.1" cy="354" r="1.5" fill="#1a1a1a"/>
<line x1="184.8" y1="381.8" x2="184.8" y2="388.2" stroke="#1a1a1a" stroke-width="1.1"/>
<line x1="180.20000000000002" y1="381.8" x2="189.4" y2="381.8" stroke="#1a1a1a" stroke-width="1.1"/>
<line x1="180.20000000000002" y1="388.2" x2="189.4" y2="388.2" stroke="#1a1a1a" stroke-width="1.1"/>
<circle cx="184.8" cy="382.5" r="1.5" fill="#1a1a1a"/>
<circle cx="184.8" cy="384.5" r="1.5" fill="#1a1a1a"/>
<circle cx="184.8" cy="386.4" r="1.5" fill="#1a1a1a"/>
<circle cx="184.8" cy="388.0" r="1.5" fill="#1a1a1a"/>
<line x1="210.5" y1="300.9" x2="210.5" y2="323.0" stroke="#1a1a1a" stroke-width="1.1"/>
<line x1="205.9" y1="300.9" x2="215.1" y2="300.9" stroke="#1a1a1a" stroke-width="1.1"/>
<line x1="205.9" y1="323.0" x2="215.1" y2="323.0" stroke="#1a1a1a" stroke-width="1.1"/>
<circle cx="210.5" cy="300" r="1.5" fill="#1a1a1a"/>
<circle cx="210.5" cy="304" r="1.5" fill="#1a1a1a"/>
<circle cx="210.5" cy="309" r="1.5" fill="#1a1a1a"/>
<circle cx="210.5" cy="313" r="1.5" fill="#1a1a1a"/>
<circle cx="210.5" cy="317" r="1.5" fill="#1a1a1a"/>
<circle cx="210.5" cy="321" r="1.5" fill="#1a1a1a"/>
<circle cx="210.5" cy="332.5" r="1.5" fill="#1a1a1a"/>
<line x1="236.2" y1="370.5" x2="236.2" y2="383.6" stroke="#1a1a1a" stroke-width="1.1"/>
<line x1="231.6" y1="370.5" x2="240.79999999999998" y2="370.5" stroke="#1a1a1a" stroke-width="1.1"/>
<line x1="231.6" y1="383.6" x2="240.79999999999998" y2="383.6" stroke="#1a1a1a" stroke-width="1.1"/>
<circle cx="236.2" cy="367.7" r="1.5" fill="#1a1a1a"/>
<circle cx="236.2" cy="373" r="1.5" fill="#1a1a1a"/>
<circle cx="236.2" cy="377" r="1.5" fill="#1a1a1a"/>
<circle cx="236.2" cy="380" r="1.5" fill="#1a1a1a"/>
<circle cx="236.2" cy="384" r="1.5" fill="#1a1a1a"/>
<circle cx="236.2" cy="389.3" r="1.5" fill="#1a1a1a"/>
<line x1="261.9" y1="298.0" x2="261.9" y2="313.9" stroke="#1a1a1a" stroke-width="1.1"/>
<line x1="257.29999999999995" y1="298.0" x2="266.5" y2="298.0" stroke="#1a1a1a" stroke-width="1.1"/>
<line x1="257.29999999999995" y1="313.9" x2="266.5" y2="313.9" stroke="#1a1a1a" stroke-width="1.1"/>
<circle cx="261.9" cy="296" r="1.5" fill="#1a1a1a"/>
<circle cx="261.9" cy="300" r="1.5" fill="#1a1a1a"/>
<circle cx="261.9" cy="304" r="1.5" fill="#1a1a1a"/>
<circle cx="261.9" cy="309" r="1.5" fill="#1a1a1a"/>
<circle cx="261.9" cy="313" r="1.5" fill="#1a1a1a"/>
<circle cx="261.9" cy="319" r="1.5" fill="#1a1a1a"/>
<path d="M82.0 377.5 L82.0 289.3 L107.7 289.3 L107.7 294.5" fill="none" stroke="#111" stroke-width="1.1"/>
<circle cx="90.2" cy="285.4" r="1.4" fill="#1a1a1a"/>
<circle cx="93.3" cy="285.4" r="1.4" fill="#1a1a1a"/>
<circle cx="96.4" cy="285.4" r="1.4" fill="#1a1a1a"/>
<circle cx="99.5" cy="285.4" r="1.4" fill="#1a1a1a"/>
<path d="M133.4 364.0 L133.4 289.3 L159.1 289.3 L159.1 320.0" fill="none" stroke="#111" stroke-width="1.1"/>
<circle cx="141.6" cy="285.4" r="1.4" fill="#1a1a1a"/>
<circle cx="144.7" cy="285.4" r="1.4" fill="#1a1a1a"/>
<circle cx="147.8" cy="285.4" r="1.4" fill="#1a1a1a"/>
<circle cx="150.9" cy="285.4" r="1.4" fill="#1a1a1a"/>
<path d="M107.7 284.3 L107.7 278.4 L159.1 278.4 L159.1 284.3" fill="none" stroke="#111" stroke-width="1.1"/>
<circle cx="128.75" cy="274.5" r="1.4" fill="#1a1a1a"/>
<circle cx="131.85" cy="274.5" r="1.4" fill="#1a1a1a"/>
<circle cx="134.95" cy="274.5" r="1.4" fill="#1a1a1a"/>
<circle cx="138.05" cy="274.5" r="1.4" fill="#1a1a1a"/>
<path d="M82.0 284.0 L82.0 265.7 L159.1 265.7 L159.1 275.9" fill="none" stroke="#111" stroke-width="1.1"/>
<circle cx="115.9" cy="261.8" r="1.4" fill="#1a1a1a"/>
<circle cx="119.0" cy="261.8" r="1.4" fill="#1a1a1a"/>
<circle cx="122.1" cy="261.8" r="1.4" fill="#1a1a1a"/>
<circle cx="125.2" cy="261.8" r="1.4" fill="#1a1a1a"/>
<path d="M159.1 262.7 L159.1 254.8 L261.9 254.8 L261.9 262.7" fill="none" stroke="#111" stroke-width="1.1"/>
<circle cx="205.85" cy="250.9" r="1.4" fill="#1a1a1a"/>
<circle cx="208.95" cy="250.9" r="1.4" fill="#1a1a1a"/>
<circle cx="212.05" cy="250.9" r="1.4" fill="#1a1a1a"/>
<circle cx="215.15" cy="250.9" r="1.4" fill="#1a1a1a"/>
<path d="M184.8 378.0 L184.8 288.9 L210.5 288.9 L210.5 296.0" fill="none" stroke="#111" stroke-width="1.1"/>
<circle cx="193.0" cy="285.0" r="1.4" fill="#1a1a1a"/>
<circle cx="196.1" cy="285.0" r="1.4" fill="#1a1a1a"/>
<circle cx="199.2" cy="285.0" r="1.4" fill="#1a1a1a"/>
<circle cx="202.3" cy="285.0" r="1.4" fill="#1a1a1a"/>
<path d="M236.2 364.0 L236.2 288.9 L261.9 288.9 L261.9 293.0" fill="none" stroke="#111" stroke-width="1.1"/>
<circle cx="244.4" cy="285.0" r="1.4" fill="#1a1a1a"/>
<circle cx="247.5" cy="285.0" r="1.4" fill="#1a1a1a"/>
<circle cx="250.6" cy="285.0" r="1.4" fill="#1a1a1a"/>
<circle cx="253.7" cy="285.0" r="1.4" fill="#1a1a1a"/>
<path d="M210.5 284.0 L210.5 278.6 L261.9 278.6 L261.9 284.0" fill="none" stroke="#111" stroke-width="1.1"/>
<text x="236.2" y="277.5" font-family="Liberation Serif" font-size="6.2" text-anchor="middle" font-weight="normal" font-style="normal" fill="#333" stroke="#333" stroke-width="0.05" textLength="6.2" lengthAdjust="spacingAndGlyphs" >ns</text>
<path d="M184.8 284.0 L184.8 266.1 L261.9 266.1 L261.9 275.0" fill="none" stroke="#111" stroke-width="1.1"/>
<circle cx="218.7" cy="262.2" r="1.4" fill="#1a1a1a"/>
<circle cx="221.8" cy="262.2" r="1.4" fill="#1a1a1a"/>
<circle cx="224.9" cy="262.2" r="1.4" fill="#1a1a1a"/>
<circle cx="228.0" cy="262.2" r="1.4" fill="#1a1a1a"/>
<line x1="81.0" y1="414.4" x2="84.2" y2="414.4" stroke="#333" stroke-width="0.8"/>
<line x1="106.7" y1="414.4" x2="109.9" y2="414.4" stroke="#333" stroke-width="0.8"/>
<line x1="132.4" y1="414.4" x2="135.6" y2="414.4" stroke="#333" stroke-width="0.8"/>
<line x1="158.1" y1="414.4" x2="161.29999999999998" y2="414.4" stroke="#333" stroke-width="0.8"/>
<line x1="182.0" y1="414.4" x2="187.60000000000002" y2="414.4" stroke="#333" stroke-width="0.7"/>
<line x1="184.8" y1="411.4" x2="184.8" y2="417.4" stroke="#333" stroke-width="0.7"/>
<line x1="207.7" y1="414.4" x2="213.3" y2="414.4" stroke="#333" stroke-width="0.7"/>
<line x1="210.5" y1="411.4" x2="210.5" y2="417.4" stroke="#333" stroke-width="0.7"/>
<line x1="233.39999999999998" y1="414.4" x2="239.0" y2="414.4" stroke="#333" stroke-width="0.7"/>
<line x1="236.2" y1="411.4" x2="236.2" y2="417.4" stroke="#333" stroke-width="0.7"/>
<line x1="259.09999999999997" y1="414.4" x2="264.7" y2="414.4" stroke="#333" stroke-width="0.7"/>
<line x1="261.9" y1="411.4" x2="261.9" y2="417.4" stroke="#333" stroke-width="0.7"/>
<line x1="81.0" y1="424.5" x2="84.2" y2="424.5" stroke="#333" stroke-width="0.8"/>
<line x1="106.7" y1="424.5" x2="109.9" y2="424.5" stroke="#333" stroke-width="0.8"/>
<line x1="130.6" y1="424.5" x2="136.20000000000002" y2="424.5" stroke="#333" stroke-width="0.7"/>
<line x1="133.4" y1="421.5" x2="133.4" y2="427.5" stroke="#333" stroke-width="0.7"/>
<line x1="156.29999999999998" y1="424.5" x2="161.9" y2="424.5" stroke="#333" stroke-width="0.7"/>
<line x1="159.1" y1="421.5" x2="159.1" y2="427.5" stroke="#333" stroke-width="0.7"/>
<line x1="183.8" y1="424.5" x2="187.0" y2="424.5" stroke="#333" stroke-width="0.8"/>
<line x1="209.5" y1="424.5" x2="212.7" y2="424.5" stroke="#333" stroke-width="0.8"/>
<line x1="233.39999999999998" y1="424.5" x2="239.0" y2="424.5" stroke="#333" stroke-width="0.7"/>
<line x1="236.2" y1="421.5" x2="236.2" y2="427.5" stroke="#333" stroke-width="0.7"/>
<line x1="259.09999999999997" y1="424.5" x2="264.7" y2="424.5" stroke="#333" stroke-width="0.7"/>
<line x1="261.9" y1="421.5" x2="261.9" y2="427.5" stroke="#333" stroke-width="0.7"/>
<line x1="81.0" y1="434.7" x2="84.2" y2="434.7" stroke="#333" stroke-width="0.8"/>
<line x1="104.9" y1="434.7" x2="110.5" y2="434.7" stroke="#333" stroke-width="0.7"/>
<line x1="107.7" y1="431.7" x2="107.7" y2="437.7" stroke="#333" stroke-width="0.7"/>
<line x1="132.4" y1="434.7" x2="135.6" y2="434.7" stroke="#333" stroke-width="0.8"/>
<line x1="156.29999999999998" y1="434.7" x2="161.9" y2="434.7" stroke="#333" stroke-width="0.7"/>
<line x1="159.1" y1="431.7" x2="159.1" y2="437.7" stroke="#333" stroke-width="0.7"/>
<line x1="183.8" y1="434.7" x2="187.0" y2="434.7" stroke="#333" stroke-width="0.8"/>
<line x1="207.7" y1="434.7" x2="213.3" y2="434.7" stroke="#333" stroke-width="0.7"/>
<line x1="210.5" y1="431.7" x2="210.5" y2="437.7" stroke="#333" stroke-width="0.7"/>
<line x1="235.2" y1="434.7" x2="238.39999999999998" y2="434.7" stroke="#333" stroke-width="0.8"/>
<line x1="259.09999999999997" y1="434.7" x2="264.7" y2="434.7" stroke="#333" stroke-width="0.7"/>
<line x1="261.9" y1="431.7" x2="261.9" y2="437.7" stroke="#333" stroke-width="0.7"/>
<text x="72.8" y="418.0" font-family="Liberation Serif" font-size="6.7" text-anchor="end" font-weight="normal" font-style="normal" fill="#222" stroke="#222" stroke-width="0.04" textLength="67.9" lengthAdjust="spacingAndGlyphs" >Sodium Oxamate (10mM)</text>
<text x="74.0" y="427.5" font-family="Liberation Serif" font-size="6.7" text-anchor="end" font-weight="normal" font-style="normal" fill="#222" stroke="#222" stroke-width="0.04" textLength="64.2" lengthAdjust="spacingAndGlyphs" >First Hit LPS (25ng/mL)</text>
<text x="75.0" y="437.6" font-family="Liberation Serif" font-size="6.7" text-anchor="end" font-weight="normal" font-style="normal" fill="#222" stroke="#222" stroke-width="0.04" textLength="71.4" lengthAdjust="spacingAndGlyphs" >Second Hit LPS (25ng/mL)</text>
<text x="415.4" y="249.5" font-family="Liberation Serif" font-size="10.0" text-anchor="start" font-weight="normal" font-style="italic" fill="#222" stroke="#222" stroke-width="0.1" textLength="17.2" lengthAdjust="spacingAndGlyphs" >Tnfa</text>
<text transform="translate(306.6,336.6) rotate(-90)" font-family="Liberation Serif" font-size="7.4" text-anchor="middle" fill="#1e1e1e" stroke="#1e1e1e" stroke-width="0.06" textLength="135.0" lengthAdjust="spacingAndGlyphs">Log2 Fold Change normalized to veh veh veh</text>
<rect x="349.96" y="321.94" width="16.6" height="64.46" fill="#abb0d8" stroke="#111" stroke-width="1.45"/>
<rect x="375.82" y="377.32" width="16.6" height="9.08" fill="#8bcfdb" stroke="#111" stroke-width="1.45"/>
<rect x="401.68" y="356.22" width="16.6" height="30.18" fill="#78dbc7" stroke="#111" stroke-width="1.45"/>
<rect x="427.54" y="385.67" width="16.6" height="0.73" fill="#abb0d8" stroke="#111" stroke-width="1.45"/>
<rect x="453.4" y="323.11" width="16.6" height="63.29" fill="#abb0d8" stroke="#111" stroke-width="1.45"/>
<rect x="479.26" y="377.9" width="16.6" height="8.5" fill="#8bcfdb" stroke="#111" stroke-width="1.45"/>
<rect x="505.12" y="319.3" width="16.6" height="67.1" fill="#78dbc7" stroke="#111" stroke-width="1.45"/>
<line x1="315.3" y1="386.4" x2="530.0" y2="386.4" stroke="#1a1a1a" stroke-width="1.7"/>
<line x1="315.3" y1="268.7" x2="315.3" y2="401.59999999999997" stroke="#111" stroke-width="1.35"/>
<line x1="314.6" y1="400.9" x2="530.0" y2="400.9" stroke="#111" stroke-width="1.4"/>
<line x1="312.5" y1="386.4" x2="315.3" y2="386.4" stroke="#1a1a1a" stroke-width="0.9"/>
<text x="312.3" y="388.9" font-family="Liberation Serif" font-size="5.8" text-anchor="end" fill="#222" stroke="#222" stroke-width="0.12">0</text>
<line x1="312.5" y1="357.1" x2="315.3" y2="357.1" stroke="#1a1a1a" stroke-width="0.9"/>
<text x="312.3" y="359.6" font-family="Liberation Serif" font-size="5.8" text-anchor="end" fill="#222" stroke="#222" stroke-width="0.12">2</text>
<line x1="312.5" y1="327.8" x2="315.3" y2="327.8" stroke="#1a1a1a" stroke-width="0.9"/>
<text x="312.3" y="330.3" font-family="Liberation Serif" font-size="5.8" text-anchor="end" fill="#222" stroke="#222" stroke-width="0.12">4</text>
<line x1="312.5" y1="298.5" x2="315.3" y2="298.5" stroke="#1a1a1a" stroke-width="0.9"/>
<text x="312.3" y="301.0" font-family="Liberation Serif" font-size="5.8" text-anchor="end" fill="#222" stroke="#222" stroke-width="0.12">6</text>
<line x1="312.5" y1="269.2" x2="315.3" y2="269.2" stroke="#1a1a1a" stroke-width="0.9"/>
<text x="312.3" y="271.7" font-family="Liberation Serif" font-size="5.8" text-anchor="end" fill="#222" stroke="#222" stroke-width="0.12">8</text>
<line x1="332.4" y1="400.9" x2="332.4" y2="403.5" stroke="#1a1a1a" stroke-width="0.9"/>
<line x1="358.26" y1="400.9" x2="358.26" y2="403.5" stroke="#1a1a1a" stroke-width="0.9"/>
<line x1="384.12" y1="400.9" x2="384.12" y2="403.5" stroke="#1a1a1a" stroke-width="0.9"/>
<line x1="409.97999999999996" y1="400.9" x2="409.97999999999996" y2="403.5" stroke="#1a1a1a" stroke-width="0.9"/>
<line x1="435.84" y1="400.9" x2="435.84" y2="403.5" stroke="#1a1a1a" stroke-width="0.9"/>
<line x1="461.7" y1="400.9" x2="461.7" y2="403.5" stroke="#1a1a1a" stroke-width="0.9"/>
<line x1="487.55999999999995" y1="400.9" x2="487.55999999999995" y2="403.5" stroke="#1a1a1a" stroke-width="0.9"/>
<line x1="513.42" y1="400.9" x2="513.42" y2="403.5" stroke="#1a1a1a" stroke-width="0.9"/>
<line x1="332.4" y1="381.1" x2="332.4" y2="391.5" stroke="#1a1a1a" stroke-width="1.1"/>
<line x1="327.79999999999995" y1="381.1" x2="337.0" y2="381.1" stroke="#1a1a1a" stroke-width="1.1"/>
<line x1="327.79999999999995" y1="391.5" x2="337.0" y2="391.5" stroke="#1a1a1a" stroke-width="1.1"/>
<circle cx="332.4" cy="379.7" r="1.5" fill="#1a1a1a"/>
<circle cx="332.4" cy="384.1" r="1.5" fill="#1a1a1a"/>
<circle cx="332.4" cy="386.6" r="1.5" fill="#1a1a1a"/>
<circle cx="332.4" cy="389" r="1.5" fill="#1a1a1a"/>
<circle cx="332.4" cy="394.8" r="1.5" fill="#1a1a1a"/>
<line x1="358.26" y1="318.6" x2="358.26" y2="326.0" stroke="#1a1a1a" stroke-width="1.1"/>
<line x1="353.65999999999997" y1="318.6" x2="362.86" y2="318.6" stroke="#1a1a1a" stroke-width="1.1"/>
<line x1="353.65999999999997" y1="326.0" x2="362.86" y2="326.0" stroke="#1a1a1a" stroke-width="1.1"/>
<circle cx="358.26" cy="318" r="1.5" fill="#1a1a1a"/>
<circle cx="358.26" cy="319.5" r="1.5" fill="#1a1a1a"/>
<circle cx="358.26" cy="321" r="1.5" fill="#1a1a1a"/>
<circle cx="358.26" cy="322.5" r="1.5" fill="#1a1a1a"/>
<circle cx="358.26" cy="324" r="1.5" fill="#1a1a1a"/>
<circle cx="358.26" cy="325.5" r="1.5" fill="#1a1a1a"/>
<line x1="384.12" y1="369.3" x2="384.12" y2="385.4" stroke="#1a1a1a" stroke-width="1.1"/>
<line x1="379.52" y1="369.3" x2="388.72" y2="369.3" stroke="#1a1a1a" stroke-width="1.1"/>
<line x1="379.52" y1="385.4" x2="388.72" y2="385.4" stroke="#1a1a1a" stroke-width="1.1"/>
<circle cx="384.12" cy="370" r="1.5" fill="#1a1a1a"/>
<circle cx="384.12" cy="374.2" r="1.5" fill="#1a1a1a"/>
<circle cx="384.12" cy="377.9" r="1.5" fill="#1a1a1a"/>
<circle cx="384.12" cy="380.4" r="1.5" fill="#1a1a1a"/>
<circle cx="384.12" cy="384.1" r="1.5" fill="#1a1a1a"/>
<circle cx="384.12" cy="394.5" r="1.5" fill="#1a1a1a"/>
<line x1="409.97999999999996" y1="347.5" x2="409.97999999999996" y2="364.3" stroke="#1a1a1a" stroke-width="1.1"/>
<line x1="405.37999999999994" y1="347.5" x2="414.58" y2="347.5" stroke="#1a1a1a" stroke-width="1.1"/>
<line x1="405.37999999999994" y1="364.3" x2="414.58" y2="364.3" stroke="#1a1a1a" stroke-width="1.1"/>
<circle cx="409.97999999999996" cy="348.2" r="1.5" fill="#1a1a1a"/>
<circle cx="409.97999999999996" cy="352" r="1.5" fill="#1a1a1a"/>
<circle cx="409.97999999999996" cy="354.4" r="1.5" fill="#1a1a1a"/>
<circle cx="409.97999999999996" cy="357.4" r="1.5" fill="#1a1a1a"/>
<circle cx="409.97999999999996" cy="368" r="1.5" fill="#1a1a1a"/>
<line x1="435.84" y1="376.1" x2="435.84" y2="393.4" stroke="#1a1a1a" stroke-width="1.1"/>
<line x1="431.23999999999995" y1="376.1" x2="440.44" y2="376.1" stroke="#1a1a1a" stroke-width="1.1"/>
<line x1="431.23999999999995" y1="393.4" x2="440.44" y2="393.4" stroke="#1a1a1a" stroke-width="1.1"/>
<circle cx="435.84" cy="375.4" r="1.5" fill="#1a1a1a"/>
<circle cx="435.84" cy="378" r="1.5" fill="#1a1a1a"/>
<circle cx="435.84" cy="386.4" r="1.5" fill="#1a1a1a"/>
<circle cx="435.84" cy="393.4" r="1.5" fill="#1a1a1a"/>
<line x1="461.7" y1="316.8" x2="461.7" y2="329.2" stroke="#1a1a1a" stroke-width="1.1"/>
<line x1="457.09999999999997" y1="316.8" x2="466.3" y2="316.8" stroke="#1a1a1a" stroke-width="1.1"/>
<line x1="457.09999999999997" y1="329.2" x2="466.3" y2="329.2" stroke="#1a1a1a" stroke-width="1.1"/>
<circle cx="461.7" cy="309.4" r="1.5" fill="#1a1a1a"/>
<circle cx="461.7" cy="320" r="1.5" fill="#1a1a1a"/>
<circle cx="461.7" cy="323" r="1.5" fill="#1a1a1a"/>
<circle cx="461.7" cy="325" r="1.5" fill="#1a1a1a"/>
<circle cx="461.7" cy="327" r="1.5" fill="#1a1a1a"/>
<line x1="487.55999999999995" y1="371.2" x2="487.55999999999995" y2="383.5" stroke="#1a1a1a" stroke-width="1.1"/>
<line x1="482.9599999999999" y1="371.2" x2="492.15999999999997" y2="371.2" stroke="#1a1a1a" stroke-width="1.1"/>
<line x1="482.9599999999999" y1="383.5" x2="492.15999999999997" y2="383.5" stroke="#1a1a1a" stroke-width="1.1"/>
<circle cx="487.55999999999995" cy="370.4" r="1.5" fill="#1a1a1a"/>
<circle cx="487.55999999999995" cy="374" r="1.5" fill="#1a1a1a"/>
<circle cx="487.55999999999995" cy="378" r="1.5" fill="#1a1a1a"/>
<circle cx="487.55999999999995" cy="381" r="1.5" fill="#1a1a1a"/>
<circle cx="487.55999999999995" cy="388.5" r="1.5" fill="#1a1a1a"/>
<line x1="513.42" y1="308.7" x2="513.42" y2="329.2" stroke="#1a1a1a" stroke-width="1.1"/>
<line x1="508.81999999999994" y1="308.7" x2="518.02" y2="308.7" stroke="#1a1a1a" stroke-width="1.1"/>
<line x1="508.81999999999994" y1="329.2" x2="518.02" y2="329.2" stroke="#1a1a1a" stroke-width="1.1"/>
<circle cx="513.42" cy="308" r="1.5" fill="#1a1a1a"/>
<circle cx="513.42" cy="312" r="1.5" fill="#1a1a1a"/>
<circle cx="513.42" cy="318" r="1.5" fill="#1a1a1a"/>
<circle cx="513.42" cy="322" r="1.5" fill="#1a1a1a"/>
<circle cx="513.42" cy="326" r="1.5" fill="#1a1a1a"/>
<circle cx="513.42" cy="339.5" r="1.5" fill="#1a1a1a"/>
<path d="M332.4 378.0 L332.4 302.0 L358.26 302.0 L358.26 316.0" fill="none" stroke="#111" stroke-width="1.1"/>
<circle cx="340.68" cy="298.1" r="1.4" fill="#1a1a1a"/>
<circle cx="343.78" cy="298.1" r="1.4" fill="#1a1a1a"/>
<circle cx="346.88" cy="298.1" r="1.4" fill="#1a1a1a"/>
<circle cx="349.98" cy="298.1" r="1.4" fill="#1a1a1a"/>
<path d="M384.12 368.0 L384.12 302.0 L409.97999999999996 302.0 L409.97999999999996 345.0" fill="none" stroke="#111" stroke-width="1.1"/>
<circle cx="392.4" cy="298.1" r="1.4" fill="#1a1a1a"/>
<circle cx="395.5" cy="298.1" r="1.4" fill="#1a1a1a"/>
<circle cx="398.6" cy="298.1" r="1.4" fill="#1a1a1a"/>
<circle cx="401.7" cy="298.1" r="1.4" fill="#1a1a1a"/>
<path d="M358.26 298.0 L358.26 291.8 L409.97999999999996 291.8 L409.97999999999996 298.0" fill="none" stroke="#111" stroke-width="1.1"/>
<circle cx="379.47" cy="287.9" r="1.4" fill="#1a1a1a"/>
<circle cx="382.57" cy="287.9" r="1.4" fill="#1a1a1a"/>
<circle cx="385.67" cy="287.9" r="1.4" fill="#1a1a1a"/>
<circle cx="388.77" cy="287.9" r="1.4" fill="#1a1a1a"/>
<path d="M332.4 298.0 L332.4 278.4 L409.97999999999996 278.4 L409.97999999999996 288.0" fill="none" stroke="#111" stroke-width="1.1"/>
<circle cx="366.54" cy="274.5" r="1.4" fill="#1a1a1a"/>
<circle cx="369.64" cy="274.5" r="1.4" fill="#1a1a1a"/>
<circle cx="372.74" cy="274.5" r="1.4" fill="#1a1a1a"/>
<circle cx="375.84" cy="274.5" r="1.4" fill="#1a1a1a"/>
<path d="M409.97999999999996 275.0 L409.97999999999996 267.9 L513.42 267.9 L513.42 275.0" fill="none" stroke="#111" stroke-width="1.1"/>
<circle cx="457.05" cy="264.0" r="1.4" fill="#1a1a1a"/>
<circle cx="460.15" cy="264.0" r="1.4" fill="#1a1a1a"/>
<circle cx="463.25" cy="264.0" r="1.4" fill="#1a1a1a"/>
<circle cx="466.35" cy="264.0" r="1.4" fill="#1a1a1a"/>
<path d="M435.84 374.0 L435.84 302.6 L461.7 302.6 L461.7 307.0" fill="none" stroke="#111" stroke-width="1.1"/>
<circle cx="444.12" cy="298.7" r="1.4" fill="#1a1a1a"/>
<circle cx="447.22" cy="298.7" r="1.4" fill="#1a1a1a"/>
<circle cx="450.32" cy="298.7" r="1.4" fill="#1a1a1a"/>
<circle cx="453.42" cy="298.7" r="1.4" fill="#1a1a1a"/>
<path d="M487.55999999999995 368.0 L487.55999999999995 302.6 L513.42 302.6 L513.42 306.0" fill="none" stroke="#111" stroke-width="1.1"/>
<circle cx="495.84" cy="298.7" r="1.4" fill="#1a1a1a"/>
<circle cx="498.94" cy="298.7" r="1.4" fill="#1a1a1a"/>
<circle cx="502.04" cy="298.7" r="1.4" fill="#1a1a1a"/>
<circle cx="505.14" cy="298.7" r="1.4" fill="#1a1a1a"/>
<path d="M461.7 298.0 L461.7 291.5 L513.42 291.5 L513.42 298.0" fill="none" stroke="#111" stroke-width="1.1"/>
<text x="487.55999999999995" y="290.4" font-family="Liberation Serif" font-size="6.2" text-anchor="middle" font-weight="normal" font-style="normal" fill="#333" stroke="#333" stroke-width="0.05" textLength="6.2" lengthAdjust="spacingAndGlyphs" >ns</text>
<path d="M435.84 298.0 L435.84 278.5 L513.42 278.5 L513.42 288.0" fill="none" stroke="#111" stroke-width="1.1"/>
<circle cx="469.98" cy="274.6" r="1.4" fill="#1a1a1a"/>
<circle cx="473.08" cy="274.6" r="1.4" fill="#1a1a1a"/>
<circle cx="476.18" cy="274.6" r="1.4" fill="#1a1a1a"/>
<circle cx="479.28" cy="274.6" r="1.4" fill="#1a1a1a"/>
<line x1="331.4" y1="413.8" x2="334.59999999999997" y2="413.8" stroke="#333" stroke-width="0.8"/>
<line x1="357.26" y1="413.8" x2="360.46" y2="413.8" stroke="#333" stroke-width="0.8"/>
<line x1="383.12" y1="413.8" x2="386.32" y2="413.8" stroke="#333" stroke-width="0.8"/>
<line x1="408.97999999999996" y1="413.8" x2="412.17999999999995" y2="413.8" stroke="#333" stroke-width="0.8"/>
<line x1="433.03999999999996" y1="413.8" x2="438.64" y2="413.8" stroke="#333" stroke-width="0.7"/>
<line x1="435.84" y1="410.8" x2="435.84" y2="416.8" stroke="#333" stroke-width="0.7"/>
<line x1="458.9" y1="413.8" x2="464.5" y2="413.8" stroke="#333" stroke-width="0.7"/>
<line x1="461.7" y1="410.8" x2="461.7" y2="416.8" stroke="#333" stroke-width="0.7"/>
<line x1="484.75999999999993" y1="413.8" x2="490.35999999999996" y2="413.8" stroke="#333" stroke-width="0.7"/>
<line x1="487.55999999999995" y1="410.8" x2="487.55999999999995" y2="416.8" stroke="#333" stroke-width="0.7"/>
<line x1="510.61999999999995" y1="413.8" x2="516.2199999999999" y2="413.8" stroke="#333" stroke-width="0.7"/>
<line x1="513.42" y1="410.8" x2="513.42" y2="416.8" stroke="#333" stroke-width="0.7"/>
<line x1="331.4" y1="424.3" x2="334.59999999999997" y2="424.3" stroke="#333" stroke-width="0.8"/>
<line x1="357.26" y1="424.3" x2="360.46" y2="424.3" stroke="#333" stroke-width="0.8"/>
<line x1="381.32" y1="424.3" x2="386.92" y2="424.3" stroke="#333" stroke-width="0.7"/>
<line x1="384.12" y1="421.3" x2="384.12" y2="427.3" stroke="#333" stroke-width="0.7"/>
<line x1="407.17999999999995" y1="424.3" x2="412.78" y2="424.3" stroke="#333" stroke-width="0.7"/>
<line x1="409.97999999999996" y1="421.3" x2="409.97999999999996" y2="427.3" stroke="#333" stroke-width="0.7"/>
<line x1="434.84" y1="424.3" x2="438.03999999999996" y2="424.3" stroke="#333" stroke-width="0.8"/>
<line x1="460.7" y1="424.3" x2="463.9" y2="424.3" stroke="#333" stroke-width="0.8"/>
<line x1="484.75999999999993" y1="424.3" x2="490.35999999999996" y2="424.3" stroke="#333" stroke-width="0.7"/>
<line x1="487.55999999999995" y1="421.3" x2="487.55999999999995" y2="427.3" stroke="#333" stroke-width="0.7"/>
<line x1="510.61999999999995" y1="424.3" x2="516.2199999999999" y2="424.3" stroke="#333" stroke-width="0.7"/>
<line x1="513.42" y1="421.3" x2="513.42" y2="427.3" stroke="#333" stroke-width="0.7"/>
<line x1="331.4" y1="434.3" x2="334.59999999999997" y2="434.3" stroke="#333" stroke-width="0.8"/>
<line x1="355.46" y1="434.3" x2="361.06" y2="434.3" stroke="#333" stroke-width="0.7"/>
<line x1="358.26" y1="431.3" x2="358.26" y2="437.3" stroke="#333" stroke-width="0.7"/>
<line x1="383.12" y1="434.3" x2="386.32" y2="434.3" stroke="#333" stroke-width="0.8"/>
<line x1="407.17999999999995" y1="434.3" x2="412.78" y2="434.3" stroke="#333" stroke-width="0.7"/>
<line x1="409.97999999999996" y1="431.3" x2="409.97999999999996" y2="437.3" stroke="#333" stroke-width="0.7"/>
<line x1="434.84" y1="434.3" x2="438.03999999999996" y2="434.3" stroke="#333" stroke-width="0.8"/>
<line x1="458.9" y1="434.3" x2="464.5" y2="434.3" stroke="#333" stroke-width="0.7"/>
<line x1="461.7" y1="431.3" x2="461.7" y2="437.3" stroke="#333" stroke-width="0.7"/>
<line x1="486.55999999999995" y1="434.3" x2="489.75999999999993" y2="434.3" stroke="#333" stroke-width="0.8"/>
<line x1="510.61999999999995" y1="434.3" x2="516.2199999999999" y2="434.3" stroke="#333" stroke-width="0.7"/>
<line x1="513.42" y1="431.3" x2="513.42" y2="437.3" stroke="#333" stroke-width="0.7"/>
</svg>
</body></html>
